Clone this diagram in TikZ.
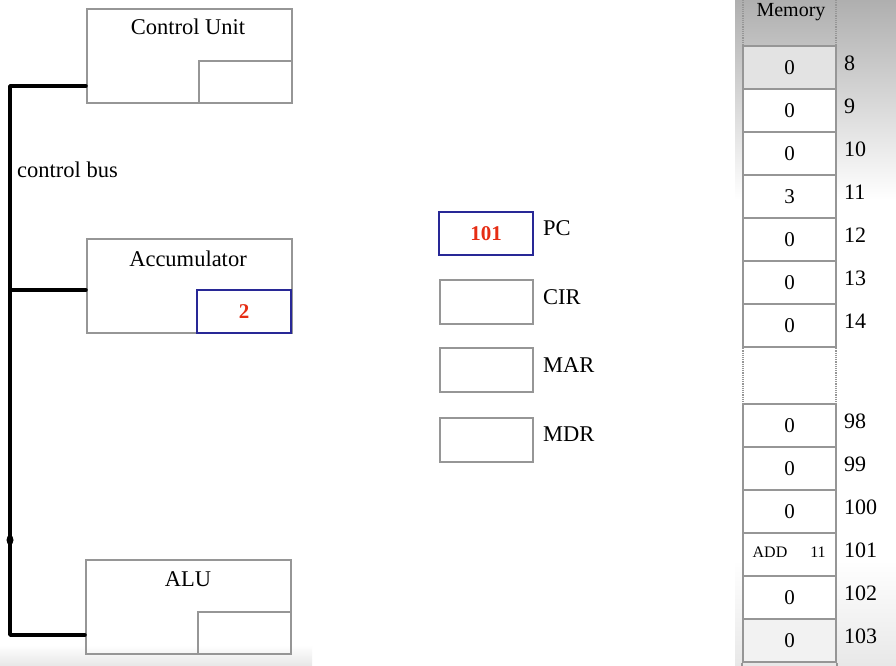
\documentclass[tikz,border=0pt]{standalone}
\usepackage{fontspec}
\setmainfont{Liberation Serif}
\definecolor{boxgray}{RGB}{150,150,150}
\definecolor{regblue}{RGB}{40,40,150}
\definecolor{valred}{RGB}{230,45,20}
\definecolor{shadegray}{RGB}{175,175,175}
\begin{document}
\begin{tikzpicture}[x=1pt,y=-1pt,
  box/.style={draw=boxgray, line width=2pt, rectangle, inner sep=0pt, anchor=north west, minimum width=205pt, minimum height=94pt},
  subbox/.style={draw=boxgray, line width=2pt, rectangle, inner sep=0pt, anchor=north west, minimum width=93pt, minimum height=42pt},
  regbox/.style={draw=boxgray, line width=2pt, rectangle, inner sep=0pt, anchor=north west, minimum width=93pt, minimum height=44pt},
  bluebox/.style={draw=regblue, line width=2.4pt, rectangle, inner sep=0pt, anchor=north west, minimum width=94pt, minimum height=43pt},
  cell/.style={draw=boxgray, line width=2pt, rectangle, inner sep=0pt, anchor=north west, minimum width=93pt, minimum height=43pt, fill=white, font=\fontsize{21}{24}\selectfont},
  bus/.style={line width=3.5pt, line cap=round, line join=round},
  txt/.style={font=\fontsize{22.5}{26}\selectfont, inner sep=0pt},
  val/.style={font=\fontsize{21}{24}\selectfont\bfseries, text=valred, inner sep=0pt},
  addr/.style={font=\fontsize{22}{25}\selectfont, inner sep=0pt, anchor=west},
  small/.style={font=\fontsize{16}{18}\selectfont, inner sep=0pt},
  dots/.style={draw=boxgray, line width=1.2pt, densely dotted}
]
\useasboundingbox (0,0) rectangle (896,665);
\fill[white] (0,0) rectangle (896,665);
\shade[top color=shadegray, bottom color=white] (735,0) rectangle (896,200);
\shade[top color=white, bottom color=gray!18] (0,645) rectangle (312,665);
\shade[top color=white, bottom color=gray!18] (735,560) rectangle (896,665);

% CPU boxes
\node[box] (cu) at (86,8) {};
\node[subbox] (cusub) at (198,60) {};
\node[txt] (cut) at (188,27) {Control Unit};

\node[box] (acc) at (86,238) {};
\node[txt] (acct) at (188,259) {Accumulator};
\node[bluebox] (accreg) at (196,289) {};
\node[val] (accv) at (accreg.center) {2};

\node[box] (alu) at (85,559) {};
\node[subbox] (alusub) at (197,611) {};
\node[txt] (alut) at (188,579) {ALU};

% control bus
\coordinate (cuin) at (86,86);
\coordinate (accin) at (86,290);
\coordinate (aluin) at (85,635);
\coordinate (bt) at (10,86);
\coordinate (bm) at (10,290);
\coordinate (bb) at (10,635);
\draw[bus] (cuin) -- (bt) -- (bb) -- (aluin);
\draw[bus] (bm) -- (accin);
\fill (10,540) ellipse (3.5pt and 5pt);
\node[txt, anchor=west] (cbus) at (17,170) {control bus};

% registers
\node[bluebox] (pc) at (438,211) {};
\node[val] (pcv) at (pc.center) {101};
\node[txt, anchor=west] (pcl) at (543,228) {PC};
\node[regbox] (cir) at (439,279) {};
\node[txt, anchor=west] (cirl) at (543,297) {CIR};
\node[regbox] (mar) at (439,347) {};
\node[txt, anchor=west] (marl) at (543,365) {MAR};
\node[regbox] (mdr) at (439,417) {};
\node[txt, anchor=west] (mdrl) at (543,434) {MDR};

% memory
\draw[dots] (743,0) -- (743,45);
\draw[dots] (836,0) -- (836,45);
\node[font=\fontsize{20}{23}\selectfont, inner sep=0pt] (memt) at (791,12) {Memory};
\draw[dots] (743,346) -- (743,403);
\draw[dots] (836,346) -- (836,403);

\foreach \a/\y/\v in {8/45/0, 9/88/0, 10/131/0, 11/174/3, 12/217/0, 13/260/0, 14/303/0,
                     98/403/0, 99/446/0, 100/489/0, 102/575/0, 103/618/0} {
  \node[cell] (m\a) at (742,\y) {\v};
  \node[addr] (a\a) at ([xshift=7pt,yshift=4pt]m\a.east) {\a};
}
\node[cell, fill=gray!22] (m8) at (742,45) {0};
\node[cell, fill=gray!10] (m103) at (742,618) {0};
\node[cell] (m101) at (742,532) {};
\node[small] (addop) at (770,552) {ADD};
\node[small] (addarg) at (818,552) {11};
\node[addr] (a101) at ([xshift=7pt,yshift=4pt]m101.east) {101};
\draw[draw=boxgray, line width=2pt] (m103.south west) -- ++(0,6);
\draw[draw=boxgray, line width=2pt] (m103.south east) -- ++(0,6);
\end{tikzpicture}
\end{document}
